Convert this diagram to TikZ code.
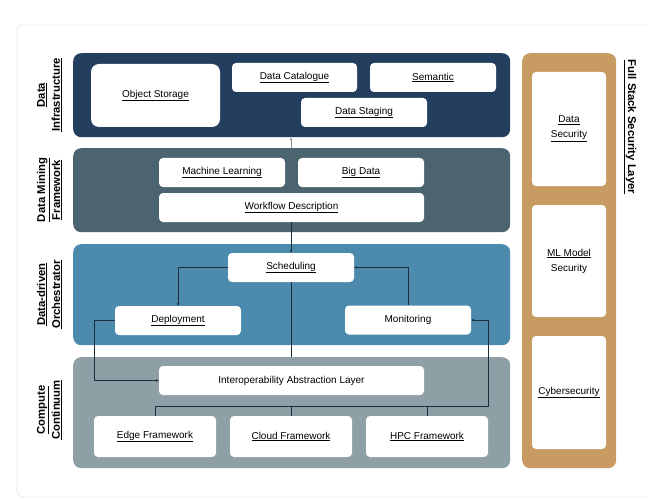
\documentclass[tikz,border=0pt]{standalone}
\usepackage{fontspec}
\setmainfont{Liberation Sans}
\usetikzlibrary{arrows.meta}
\definecolor{cDI}{HTML}{243E60}
\definecolor{cDMF}{HTML}{4B6470}
\definecolor{cDDO}{HTML}{4C8BAE}
\definecolor{cCC}{HTML}{8E9FA6}
\definecolor{cSEC}{HTML}{C89B63}
\definecolor{cLine}{HTML}{1A2E3E}
\newcommand{\ulx}[1]{\underline{#1}}
\begin{document}
\begin{tikzpicture}[x=1pt,y=-1pt,
  layer/.style={rounded corners=8pt, inner sep=0pt, anchor=north west},
  wbox/.style={fill=white, rounded corners=4pt, inner sep=0pt, align=center,
     font=\fontsize{10}{15}\selectfont},
  lab/.style={font=\fontsize{11.3}{15}\selectfont\bfseries, align=center},
  conn/.style={draw=cLine, line width=0.8pt},
  arr/.style={conn, -{Stealth[length=3pt,width=2.5pt]}}]
\useasboundingbox (0,0) rectangle (648,500);
\fill[white] (0,0) rectangle (648,500);
\draw[black!8, line width=0.8pt, rounded corners=6pt] (17,25) rectangle (700,497);

% layers
\node[layer, fill=cDI, minimum width=437pt, minimum height=84pt] (di) at (73,53) {};
\node[layer, fill=cDMF, minimum width=437pt, minimum height=84pt] (dmf) at (73,148) {};
\node[layer, fill=cDDO, minimum width=437pt, minimum height=101pt] (ddo) at (73,244) {};
\node[layer, fill=cCC, minimum width=437pt, minimum height=111pt] (cc) at (73,357) {};
\node[layer, fill=cSEC, minimum width=94pt, minimum height=415pt] (sec) at (522,53) {};

% side labels
\node[lab, rotate=90] (ldi) at (49.5,95) {\ulx{Data}\\\ulx{Infrastructure}};
\node[lab, rotate=90] (ldmf) at (49.5,190) {\ulx{Data Mining}\\\ulx{Framework}};
\node[lab, rotate=90] (lddo) at (49.5,294.5) {\ulx{Data-driven}\\\ulx{Orchestrator}};
\node[lab, rotate=90] (lcc) at (49.5,410) {\ulx{Compute}\\\ulx{Continuum}};
\node[lab, rotate=-90] (lsec) at (630,127) {\ulx{Full Stack Security Layer}};

% Data Infrastructure
\node[wbox, rounded corners=8pt, minimum width=129pt, minimum height=63pt] (os) at (155.5,95.5) {\ulx{Object Storage}};
\node[wbox, minimum width=125pt, minimum height=29pt] (dc) at (294.5,77.5) {\ulx{Data Catalogue}};
\node[wbox, minimum width=126pt, minimum height=29pt] (sem) at (433,77.5) {\ulx{Semantic}};
\node[wbox, minimum width=126pt, minimum height=29pt] (ds) at (364,112.5) {\ulx{Data Staging}};

% Data Mining Framework
\node[wbox, minimum width=126pt, minimum height=29pt] (ml) at (222,172.5) {\ulx{Machine Learning}};
\node[wbox, minimum width=126pt, minimum height=29pt] (bd) at (361,172.5) {\ulx{Big Data}};
\node[wbox, minimum width=265pt, minimum height=29pt] (wf) at (291.5,207.5) {\ulx{Workflow Description}};

% Orchestrator
\node[wbox, minimum width=126pt, minimum height=29pt] (sch) at (291,267.5) {\ulx{Scheduling}};
\node[wbox, minimum width=126pt, minimum height=29pt] (dep) at (178,320.5) {\ulx{Deployment}};
\node[wbox, minimum width=126pt, minimum height=29pt] (mon) at (408,320) {Monitoring};

% Compute Continuum
\node[wbox, minimum width=265pt, minimum height=29pt] (iop) at (291.5,380.5) {Interoperability Abstraction Layer};
\node[wbox, minimum width=122pt, minimum height=41pt] (edge) at (155,436.5) {\ulx{Edge Framework}};
\node[wbox, minimum width=122pt, minimum height=41pt] (cloud) at (291,436.5) {\ulx{Cloud Framework}};
\node[wbox, minimum width=122pt, minimum height=41pt] (hpc) at (427,436.5) {\ulx{HPC Framework}};

% Security
\node[wbox, minimum width=74pt, minimum height=114pt] (dsec) at (569,129) {\ulx{Data}\\\ulx{Security}};
\node[wbox, minimum width=74pt, minimum height=112pt] (mlsec) at (569,261) {\ulx{ML Model}\\Security};
\node[wbox, minimum width=74pt, minimum height=113pt] (cyber) at (569,392.5) {\ulx{Cybersecurity}};

% connectors
\coordinate (busR) at (488,406);
\coordinate (depL) at (94,320.5);
\draw[arr, draw=black!45] (dmf.north -| sch.north) -- (di.south -| sch.north);
\draw[arr] (wf.south -| sch.north) -- (sch.north);
\draw[arr] (sch.west) -| (dep.north);
\draw[arr] (mon.north) |- (sch.east);
\draw[conn] (sch.south) -- (cc.north -| sch.south);
\draw[arr] (dep.west) -- (depL) |- (iop.west);
\draw[arr] (edge.north) |- (busR) |- (mon.east);
\draw[conn] (cloud.north) -- (cloud.north |- busR);
\draw[conn] (hpc.north) -- (hpc.north |- busR);
\end{tikzpicture}
\end{document}
